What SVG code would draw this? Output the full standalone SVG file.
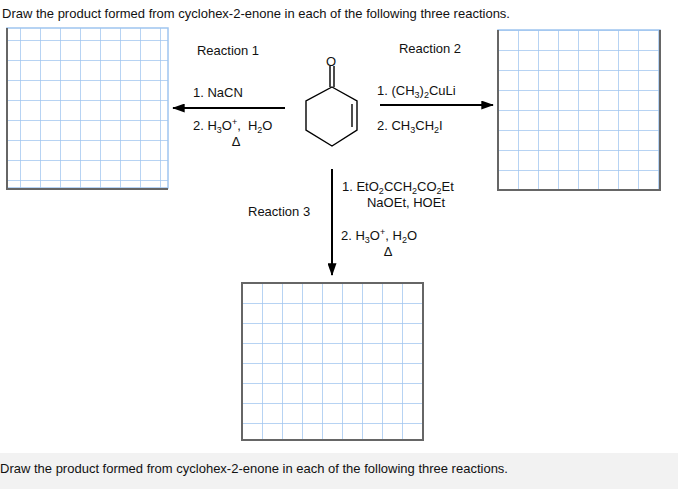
<svg xmlns="http://www.w3.org/2000/svg" width="678" height="489" viewBox="0 0 678 489">
<defs>
<pattern id="g" width="20" height="20" patternUnits="userSpaceOnUse"><path d="M0 0H20M0 0V20" stroke="#9fc5f0" stroke-width="1.5" fill="none"/></pattern>
<marker id="ah" viewBox="0 0 14 10" refX="13" refY="5" markerWidth="14" markerHeight="9" markerUnits="userSpaceOnUse" orient="auto"><path d="M0 0L14 5L0 10z" fill="#000"/></marker>
</defs>
<style>
text{font-family:"Liberation Sans",Arial,sans-serif;font-size:13px;fill:#111}
.b{stroke:#666;stroke-width:2;fill:none}
.c{stroke:#000;stroke-width:2;fill:none}
.m{stroke:#000;stroke-width:1.4;fill:none}
</style>
<rect width="678" height="489" fill="#fff"/>
<rect x="0" y="453" width="678" height="36" fill="#f2f2f2"/>
<text x="2" y="18">Draw the product formed from cyclohex-2-enone in each of the following three reactions.</text>
<text x="0" y="473">Draw the product formed from cyclohex-2-enone in each of the following three reactions.</text>
<g id="box1"><rect x="7" y="28" width="161" height="160" fill="url(#g)"/><rect x="7" y="28" width="161" height="160" fill="none" stroke="#9fc5f0" stroke-width="1.5"/><path class="b" d="M7 28V189H168"/></g>
<g id="box2"><g transform="translate(498,30)"><rect width="163" height="160" fill="url(#g)"/><rect width="162" height="160" fill="none" stroke="#9fc5f0" stroke-width="1.5"/><path class="b" d="M0 0V160H162V0"/></g></g>
<g id="box3"><g transform="translate(242,283)"><rect width="181" height="157" fill="url(#g)"/><path class="b" d="M0 0V157H181V0Z"/></g></g>
<g id="molecule">
<path class="m" d="M332 87L357 101L357 130L332 146L306 130L306 101Z"/>
<path class="m" d="M352 104V127"/>
<path class="m" d="M330 87V66M334 87V66"/>
<text x="331" y="66" text-anchor="middle" font-size="11">O</text>
</g>
<g id="connectors">
<line class="c" x1="285" y1="108" x2="173" y2="108" marker-end="url(#ah)"/>
<line class="c" x1="380" y1="105" x2="493" y2="105" marker-end="url(#ah)"/>
<line class="c" x1="332" y1="169" x2="332" y2="275" marker-end="url(#ah)"/>
</g>
<g id="labels">
<text x="228" y="55" text-anchor="middle">Reaction 1</text>
<text x="430" y="53" text-anchor="middle">Reaction 2</text>
<text x="193" y="97">1. NaCN</text>
<text x="193" y="130">2. H<tspan font-size="9" dy="3">3</tspan><tspan dy="-3">O</tspan><tspan font-size="9" dy="-5">+</tspan><tspan dy="5">,</tspan><tspan dx="7">H</tspan><tspan font-size="9" dy="3">2</tspan><tspan dy="-3">O</tspan></text>
<text x="236" y="146" text-anchor="middle">Δ</text>
<text x="377" y="95">1. (CH<tspan font-size="9" dy="3">3</tspan><tspan dy="-3">)</tspan><tspan font-size="9" dy="3">2</tspan><tspan dy="-3">CuLi</tspan></text>
<text x="377" y="130">2. CH<tspan font-size="9" dy="3">3</tspan><tspan dy="-3">CH</tspan><tspan font-size="9" dy="3">2</tspan><tspan dy="-3">I</tspan></text>
<text x="342" y="191">1. EtO<tspan font-size="9" dy="3">2</tspan><tspan dy="-3">CCH</tspan><tspan font-size="9" dy="3">2</tspan><tspan dy="-3">CO</tspan><tspan font-size="9" dy="3">2</tspan><tspan dy="-3">Et</tspan></text>
<text x="406" y="207" text-anchor="middle">NaOEt, HOEt</text>
<text x="248" y="216">Reaction 3</text>
<text x="341" y="240">2. H<tspan font-size="9" dy="3">3</tspan><tspan dy="-3">O</tspan><tspan font-size="9" dy="-5">+</tspan><tspan dy="5">, H</tspan><tspan font-size="9" dy="3">2</tspan><tspan dy="-3">O</tspan></text>
<text x="388" y="256" text-anchor="middle">Δ</text>
</g>
</svg>
